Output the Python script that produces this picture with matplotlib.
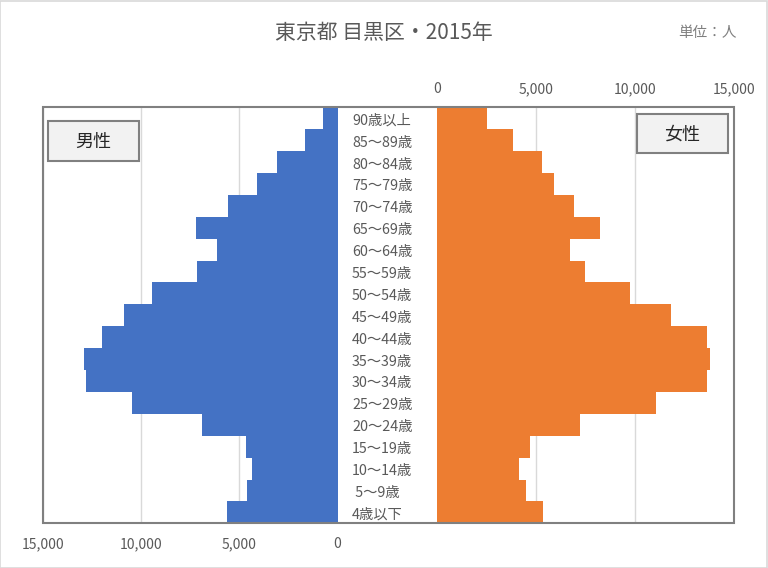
import matplotlib
matplotlib.use("Agg")
import matplotlib.pyplot as plt
import matplotlib.transforms as mtransforms
from matplotlib.patches import Rectangle

plt.rcParams['font.family'] = ['Noto Sans CJK JP', 'DejaVu Sans']

# ---- data (youngest to oldest) ----
age_groups = ["4歳以下", " 5～9歳", "10～14歳", "15～19歳", "20～24歳", "25～29歳",
              "30～34歳", "35～39歳", "40～44歳", "45～49歳", "50～54歳", "55～59歳",
              "60～64歳", "65～69歳", "70～74歳", "75～79歳", "80～84歳", "85～89歳",
              "90歳以上"]
male = [5600, 4630, 4330, 4680, 6880, 10480, 12800, 12880, 12000, 10840,
        9430, 7130, 6130, 7220, 5550, 4110, 3100, 1660, 760]
female = [5350, 4500, 4140, 4700, 7190, 11040, 13620, 13790, 13620, 11790,
          9730, 7460, 6700, 8220, 6920, 5890, 5270, 3840, 2520]
tick_values = [0, 5000, 10000, 15000]
tick_labels = ["0", "5,000", "10,000", "15,000"]
title = "東京都 目黒区・2015年"
unit_label = "単位：人"
male_label = "男性"
female_label = "女性"

W, H = 768, 568
fig = plt.figure(figsize=(W / 100, H / 100), dpi=100)

def fx(px):
    return px / W

def fy(py):
    return 1 - py / H

top_px, bot_px = 107.3, 523.3
left0, left1 = 42.7, 337.5
right0, right1 = 437.3, 734.0

blue = "#4472C4"
orange = "#ED7D31"
grid_c = "#D9D9D9"
txt_c = "#595959"

ax_l = fig.add_axes([fx(left0), fy(bot_px), fx(left1 - left0), (bot_px - top_px) / H])
ax_r = fig.add_axes([fx(right0), fy(bot_px), fx(right1 - right0), (bot_px - top_px) / H])

ypos = list(range(len(age_groups)))
ax_l.barh(ypos, male, height=1.0, color=blue, zorder=3)
ax_r.barh(ypos, female, height=1.0, color=orange, zorder=3)

for ax in (ax_l, ax_r):
    ax.set_ylim(-0.5, len(age_groups) - 0.5)
    ax.set_yticks([])
    for s in ax.spines.values():
        s.set_visible(False)
    ax.set_xticks(tick_values)
    ax.set_xticklabels(tick_labels)
    ax.tick_params(axis='x', length=0, labelsize=10, labelcolor=txt_c)
    ax.grid(axis='x', color=grid_c, linewidth=1.0, zorder=0)
    ax.set_facecolor('none')

ax_l.set_xlim(15000, 0)
ax_l.tick_params(axis='x', pad=10)
ax_r.set_xlim(0, 15000)
ax_r.xaxis.tick_top()
ax_r.tick_params(axis='x', pad=8)

# age labels in the middle
trans = mtransforms.blended_transform_factory(fig.transFigure, ax_r.transData)
offset = mtransforms.ScaledTranslation(0, -2.5 / 100, fig.dpi_scale_trans)
for y, lab in zip(ypos, age_groups):
    fig.text(fx(352), y, lab, transform=trans + offset, ha='left', va='center',
             fontsize=10.3, color=txt_c)

# frame around plot
fig.patches.append(Rectangle((fx(left0), fy(bot_px)), fx(right1 - left0), (bot_px - top_px) / H,
                             transform=fig.transFigure, fill=False, edgecolor="#808080",
                             linewidth=1.5, zorder=10))
# outer border
fig.patches.append(Rectangle((0.0, 0.0), 0.999, 0.998, transform=fig.transFigure,
                             fill=False, edgecolor="#D9D9D9", linewidth=1.2, zorder=10))

# sex boxes
def label_box(x0, y0, x1, y1, text):
    fig.patches.append(Rectangle((fx(x0), fy(y1)), fx(x1 - x0), (y1 - y0) / H,
                                 transform=fig.transFigure, facecolor="#F2F2F2",
                                 edgecolor="#808080", linewidth=1.5, zorder=11))
    fig.text(fx((x0 + x1) / 2), fy((y0 + y1) / 2 + 1), text, ha='center', va='center',
             fontsize=13, color="#262626", zorder=12)

label_box(48, 121, 139, 161, male_label)
label_box(637, 114, 728, 153, female_label)

fig.text(fx(384), fy(33), title, ha='center', va='center', fontsize=15, color=txt_c)
fig.text(fx(737), fy(33), unit_label, ha='right', va='center', fontsize=10.5, color="#7F7F7F")

fig.savefig("out.png", dpi=100)
